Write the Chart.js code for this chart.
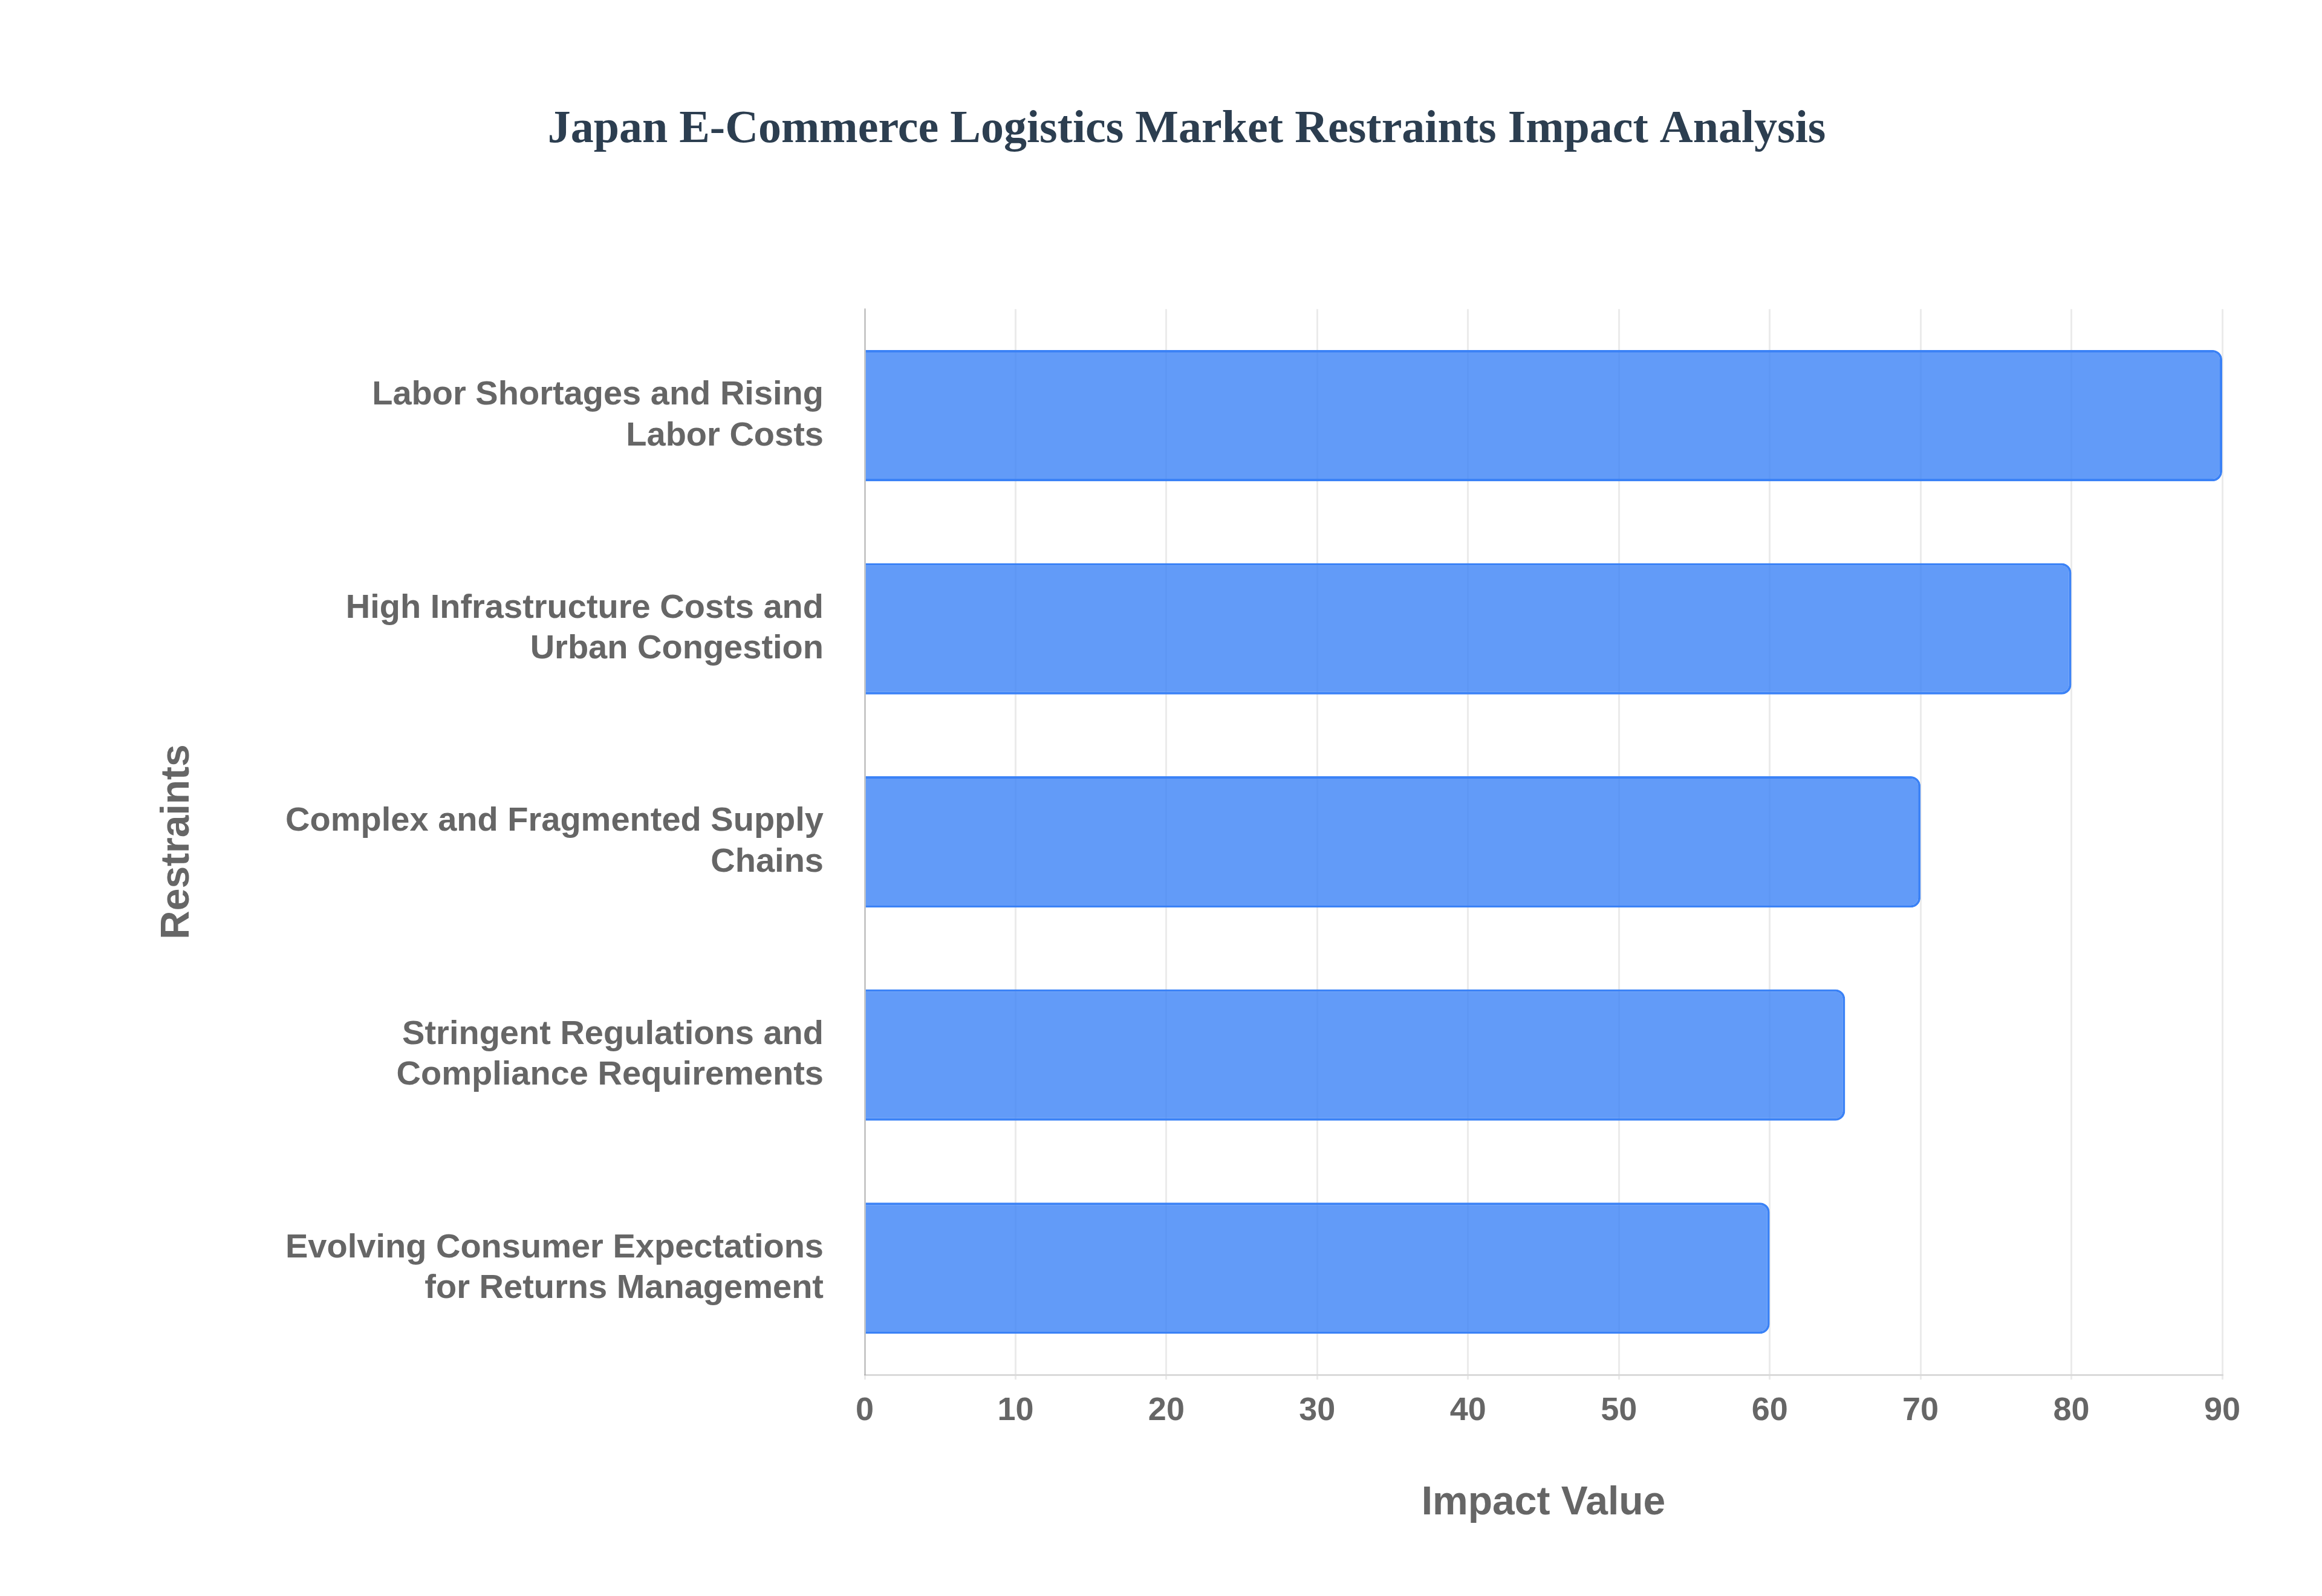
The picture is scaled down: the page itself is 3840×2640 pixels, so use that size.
<!DOCTYPE html>
<html>
<head>
<meta charset="utf-8">
<script src="https://cdn.jsdelivr.net/npm/chart.js@4.4.0/dist/chart.umd.min.js"></script>
<style>
  html, body { margin: 0; padding: 0; background: #fff; }
  #wrap { width: 3840px; height: 2640px; }
</style>
</head>
<body>
<div id="wrap"><canvas id="chart" width="3840" height="2640"></canvas></div>
<script>
/* ===================== DATOS ===================== */
const restricciones = [
  ["Labor Shortages and Rising", "Labor Costs"],
  ["High Infrastructure Costs and", "Urban Congestion"],
  ["Complex and Fragmented Supply", "Chains"],
  ["Stringent Regulations and", "Compliance Requirements"],
  ["Evolving Consumer Expectations", "for Returns Management"],
];
const impacto = [90, 80, 70, 65, 60];

const gris = "#666666";
const fuenteEjes = "'Liberation Sans', Arial, sans-serif";

/* ===================== GRÁFICO ===================== */
new Chart(document.getElementById("chart"), {
  type: "bar",
  data: {
    labels: restricciones,
    datasets: [
      {
        label: "Impact Value",
        data: impacto,
        backgroundColor: "rgba(59,130,246,0.8)",
        borderColor: "#3b82f6",
        borderWidth: 4,
        borderRadius: 16,
        borderSkipped: "start",
        categoryPercentage: 0.8,
        barPercentage: 0.77,
      },
    ],
  },
  options: {
    indexAxis: "y",
    responsive: false,
    animation: false,
    devicePixelRatio: 1,
    layout: { padding: { left: 250, right: 165, top: 170, bottom: 110 } },
    plugins: {
      legend: { display: false },
      tooltip: { enabled: false },
      title: {
        display: true,
        text: "Japan E-Commerce Logistics Market Restraints Impact Analysis",
        color: "#2c3e50",
        font: { family: "'Liberation Serif', 'Times New Roman', serif", size: 76, weight: "bold" },
        padding: { top: 0, bottom: 250 },
      },
    },
    scales: {
      x: {
        min: 0,
        max: 90,
        ticks: { stepSize: 10, color: gris, font: { family: fuenteEjes, size: 54, weight: "bold" }, padding: 20 },
        grid: { color: "rgba(0,0,0,0.08)", lineWidth: 3 },
        border: { color: "rgba(0,0,0,0.15)", width: 3 },
        title: {
          display: true,
          text: "Impact Value",
          color: gris,
          font: { family: fuenteEjes, size: 66, weight: "bold" },
          padding: { top: 60 },
        },
      },
      y: {
        afterFit: (s) => { s.width = 1180; },
        ticks: { color: gris, font: { family: fuenteEjes, size: 56, weight: "bold" }, padding: 60 },
        grid: { display: false },
        border: { color: "rgba(0,0,0,0.15)", width: 3 },
        title: {
          display: true,
          text: "Restraints",
          color: gris,
          font: { family: fuenteEjes, size: 66, weight: "bold" },
        },
      },
    },
  },
});
</script>
</body>
</html>
